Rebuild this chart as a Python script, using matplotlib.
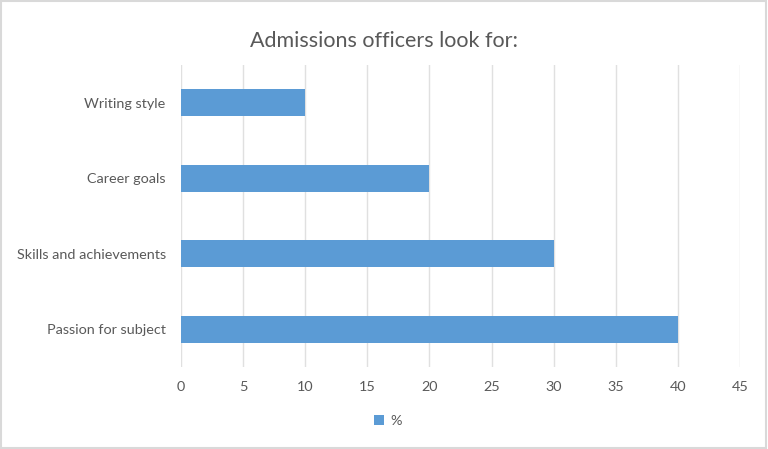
import matplotlib.pyplot as plt
from matplotlib.patches import Rectangle

categories = ['Passion for subject', 'Skills and achievements', 'Career goals', 'Writing style']
values = [40, 30, 20, 10]
xticks = [0, 5, 10, 15, 20, 25, 30, 35, 40, 45]

plt.rcParams['font.family'] = ['Lato', 'DejaVu Sans']
grey = '#595959'

fig = plt.figure(figsize=(7.68, 4.49), dpi=100)
ax = fig.add_axes([0.2357, 0.1826, 0.7278, 0.6726])

ax.barh(categories, values, height=0.36, color='#5B9BD5', label='%', zorder=3)
ax.set_xlim(0, 45)
ax.set_ylim(-0.5, len(categories) - 0.5)
ax.set_xticks(xticks)
ax.grid(axis='x', color='#e0e0e0', linewidth=1, zorder=0)
for s in ax.spines.values():
    s.set_visible(False)
ax.tick_params(axis='both', length=0, labelsize=10.4, colors=grey)
ax.tick_params(axis='x', pad=10)
ax.tick_params(axis='y', pad=11)

fig.suptitle('Admissions officers look for:', y=0.93, fontsize=15.5, color=grey)
fig.legend(loc='center', bbox_to_anchor=(0.505, 0.062), frameon=False, fontsize=10.4,
           labelcolor=grey, handlelength=0.7, handleheight=0.7, handletextpad=0.4)

fig.patches.append(Rectangle((0.001, 0.002), 0.997, 0.995, transform=fig.transFigure,
                             fill=False, edgecolor='#d9d9d9', linewidth=1.5))

fig.savefig('out.png', dpi=100)
